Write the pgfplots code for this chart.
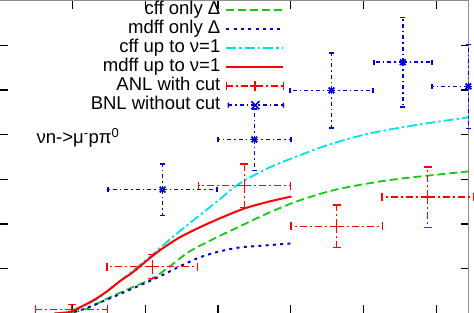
\documentclass[border=0pt]{standalone}
\usepackage{fontspec}
\setmainfont{Liberation Sans}
\usepackage{pgfplots}
\pgfplotsset{compat=1.18}
\definecolor{gpgreen}{RGB}{20,200,20}
\definecolor{gpblue}{RGB}{0,0,210}
\definecolor{gpcyan}{RGB}{0,225,235}
\definecolor{gpred}{RGB}{255,0,0}
\begin{document}
\begin{tikzpicture}
\begin{axis}[
 scale only axis, width=469pt, height=313pt,
 xmin=0, xmax=6.442, ymin=0, ymax=7,
 xtick={0,...,6}, ytick={0,...,7},
 xticklabels={}, yticklabels={},
 tick align=inside, major tick length=8pt,
 tick style={black, line width=1.2pt},
 axis line style={black!45, line width=1pt},
 clip=false,
 legend plot pos=right,
 legend cell align=right,
 legend style={at={(axis cs:3.915,7)}, anchor=north east, draw=none, fill=none, inner sep=0pt, row sep=0pt, font=\fontsize{18.5}{19}\selectfont, nodes={inner ysep=0pt, inner xsep=5pt, text height=13.5pt, text depth=5.5pt}},
 legend image code/.code={\draw[#1] (0pt,0pt) -- (57pt,0pt);},
]
% cff only Delta
\addplot[gpgreen, line width=1.8pt, dash pattern=on 8pt off 4pt, smooth] coordinates {
(0.824,0) (1.030,0.034) (1.236,0.134) (1.511,0.358) (1.786,0.559) (2.102,0.783) (2.335,1.051) (2.610,1.387) (2.953,1.678) (3.297,1.946) (3.709,2.260) (4.121,2.528) (4.629,2.774) (5.316,2.975) (5.907,3.087) (6.442,3.177)};
\addlegendentry{cff only Δ}
% mdff only Delta
\addplot[gpblue, line width=2pt, dash pattern=on 3pt off 4.3pt, smooth] coordinates {
(0.824,0) (1.099,0.067) (1.511,0.336) (1.923,0.626) (2.198,0.828) (2.473,1.051) (2.747,1.253) (3.022,1.387) (3.297,1.477) (3.640,1.521) (3.997,1.566)};
\addlegendentry{mdff only Δ}
% cff up to nu=1
\addplot[gpcyan, line width=1.8pt, dash pattern=on 10pt off 3pt on 2.5pt off 3pt, smooth] coordinates {
(0.755,0) (0.962,0.045) (1.168,0.179) (1.374,0.358) (1.511,0.537) (1.786,0.895) (2.102,1.320) (2.404,1.745) (2.747,2.192) (3.022,2.550) (3.297,2.908) (3.709,3.266) (4.121,3.535) (4.533,3.781) (5.082,4.027) (5.769,4.228) (6.442,4.385)};
\addlegendentry{cff up to ν=1}
% mdff up to nu=1
\addplot[gpred, line width=2pt, smooth] coordinates {
(0.755,0) (0.962,0.034) (1.099,0.134) (1.236,0.246) (1.374,0.380) (1.511,0.537) (1.648,0.716) (1.827,0.917) (1.992,1.141) (2.198,1.409) (2.473,1.700) (2.747,1.924) (3.022,2.125) (3.365,2.349) (3.709,2.506) (4.011,2.617)};
\addlegendentry{mdff up to ν=1}
% ANL
\addplot[gpred, only marks, mark=+, mark size=5pt, mark options={solid, line width=1.6pt},
 legend image code/.code={
  \draw[gpred,line width=1.6pt,dash pattern=on 7pt off 3pt on 2pt off 3pt] (0pt,0pt)--(57pt,0pt);
  \draw[gpred,line width=1.6pt] (0pt,-4pt)--(0pt,4pt) (57pt,-4pt)--(57pt,4pt) (23.5pt,0pt)--(33.5pt,0pt) (28.5pt,-5pt)--(28.5pt,5pt);},
 error bars/.cd, x dir=both, x explicit, y dir=both, y explicit,
 error bar style={line width=1.6pt, dash pattern=on 7pt off 3pt on 2pt off 3pt},
 error mark options={solid, line width=1.6pt, mark size=4pt, rotate=90}]
 table[x=x, y=y, x error=ex, y error=ey] {
 x y ex ey
 0.99 0.09 0.495 0.11
 2.10 1.05 0.62 0.27
 3.365 2.86 0.63 0.49
 4.63 1.95 0.63 0.47
 5.88 2.60 0.63 0.68
 };
\addlegendentry{ANL with cut}
% BNL
\addplot[gpblue, only marks, mark=x, mark size=4pt, mark options={solid, line width=1.8pt},
 legend image code/.code={
  \draw[gpblue,line width=1.6pt,dash pattern=on 4pt off 3pt on 1.5pt off 3pt] (2pt,0pt)--(57pt,0pt);
  \draw[gpblue,line width=1.6pt] (2pt,-2.5pt)--(2pt,2.5pt) (57pt,-2.5pt)--(57pt,2.5pt) (25pt,-4pt)--(33pt,4pt) (25pt,4pt)--(33pt,-4pt);},
 error bars/.cd, x dir=both, x explicit, y dir=both, y explicit,
 error bar style={line width=1.6pt, dash pattern=on 4pt off 3pt on 1.5pt off 3pt},
 error mark options={solid, line width=1.6pt, mark size=2.5pt, rotate=90}]
 table[x=x, y=y, x error=ex, y error=ey] {
 x y ex ey
 2.24 2.77 0.75 0.58
 3.50 3.89 0.50 0.69
 4.56 4.99 0.57 0.84
 5.54 5.62 0.40 1.00
 6.44 5.08 0.50 0.94
 };
\addlegendentry{BNL without cut}
\node[anchor=base west, font=\fontsize{18.5}{19}\selectfont, inner sep=0pt] at (axis cs:0.508,3.80) {νn->μ\textsuperscript{-}pπ\textsuperscript{0}};
\end{axis}
\pgfresetboundingbox
\path[use as bounding box] (0.5pt,0.5pt) rectangle (474.5pt,313.5pt);
\end{tikzpicture}
\end{document}
